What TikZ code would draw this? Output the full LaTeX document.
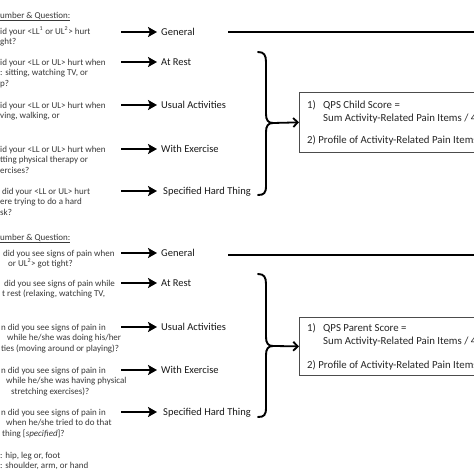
\documentclass[tikz,border=0pt]{standalone}
\usepackage{fontspec}
\setmainfont{Carlito}
\usetikzlibrary{arrows.meta}
\begin{document}
\begin{tikzpicture}[x=1pt,y=-1pt,
  qtext/.style={anchor=base west, inner sep=0pt, font=\fontsize{9}{10.5}\selectfont, text=black!78},
  lbl/.style={anchor=base west, inner sep=0pt, font=\fontsize{10.5}{12}\selectfont, text=black!90},
  boxtext/.style={anchor=base west, inner sep=0pt, font=\fontsize{10.8}{12}\selectfont, text=black!85},
  bigarrow/.style={line width=2.6pt, -{Stealth[length=9pt,width=10pt,inset=2pt]}},
  hline/.style={line width=2pt},
  bracestyle/.style={line width=1.9pt, line cap=round},
  boxarrow/.style={line width=1.8pt, -{Straight Barb[length=4.5pt,width=9pt]}},
  scorebox/.style={draw=black!70, line width=0.7pt, anchor=north west, inner sep=0pt, minimum width=260pt}
]
\useasboundingbox (0,0) rectangle (474,474);
\clip (0,0) rectangle (474,474);
\fill[white] (0,0) rectangle (474,474);

% ---------- top section ----------
\node[qtext] (h1) at (0,18) {\underline{umber \& Question:}};

\node[qtext] (q1a) at (0,34) {id your <LL\textsuperscript{1} or UL\textsuperscript{2}> hurt};
\node[qtext] (q1b) at (0,44.5) {ght?};

\node[qtext] (q2a) at (0,65) {id your <LL or UL> hurt when};
\node[qtext] (q2b) at (0,75.5) {: sitting, watching TV, or};
\node[qtext] (q2c) at (0,86) {p?};

\node[qtext] (q3a) at (0,108) {id your <LL or UL> hurt when};
\node[qtext] (q3b) at (0,118.5) {ving, walking, or};

\node[qtext] (q4a) at (0,152) {id your <LL or UL> hurt when};
\node[qtext] (q4b) at (0,162.5) {tting physical therapy or};
\node[qtext] (q4c) at (0,173) {ercises?};

\node[qtext] (q5a) at (2,194) {did your <LL or UL> hurt};
\node[qtext] (q5b) at (0,204.5) {ere trying to do a hard};
\node[qtext] (q5c) at (0,215) {sk?};

\node[lbl] (l1) at (161,35.5) {General};
\node[lbl] (l2) at (161,65.5) {At Rest};
\node[lbl] (l3) at (161,108.5) {Usual Activities};
\node[lbl] (l4) at (161,152.5) {With Exercise};
\node[lbl] (l5) at (163,194.5) {Specified Hard Thing};

\foreach \n/\y in {1/32,2/62,3/105,4/149,5/191}{
  \coordinate (a\n s) at (121,\y);
  \coordinate (a\n e) at (157,\y);
  \draw[bigarrow] (a\n s) -- (a\n e);
}

\coordinate (t1s) at (228,32);
\coordinate (t1e) at (480,32);
\draw[hline] (t1s) -- (t1e);

\coordinate (br1) at (273,123);
\draw[bracestyle] (258,52) .. controls (264,52) and (266,55) .. (266,62)
  -- (266,114) .. controls (266,120) and (268,123) .. (br1)
  .. controls (268,123) and (266,126) .. (266,132)
  -- (266,186) .. controls (266,193) and (264,195) .. (258,195);

\node[scorebox, minimum height=60pt] (box1) at (299,92) {};
\draw[boxarrow] (br1) -- (box1.west);
\node[boxtext] (b1a) at (307,108) {\makebox[16pt][l]{1)}QPS Child Score =};
\node[boxtext] (b1b) at (323,121) {Sum Activity-Related Pain Items / 4};
\node[boxtext] (b1c) at (307,143) {2) Profile of Activity-Related Pain Items};

% ---------- bottom section ----------
\node[qtext] (h2) at (0,240) {\underline{umber \& Question:}};

\node[qtext] (p1a) at (3,256) {did you see signs of pain when};
\node[qtext] (p1b) at (8,266.5) {or UL\textsuperscript{2}> got tight?};

\node[qtext] (p2a) at (4,286) {did you see signs of pain while};
\node[qtext] (p2b) at (2,296.5) {t rest (relaxing, watching TV,};

\node[qtext] (p3a) at (1,330) {n did you see signs of pain in};
\node[qtext] (p3b) at (7,340.5) {while he/she was doing his/her};
\node[qtext] (p3c) at (1,351) {ties (moving around or playing)?};

\node[qtext] (p4a) at (1,373) {n did you see signs of pain in};
\node[qtext] (p4b) at (6,383.5) {while he/she was having physical};
\node[qtext] (p4c) at (11,394) {stretching exercises)?};

\node[qtext] (p5a) at (1,415) {n did you see signs of pain in};
\node[qtext] (p5b) at (6,425.5) {when he/she tried to do that};
\node[qtext] (p5c) at (2,436) {thing [\textit{specified}]?};

\node[qtext] (f1) at (0,458) {: hip, leg or, foot};
\node[qtext] (f2) at (0,468.5) {: shoulder, arm, or hand};

\node[lbl] (m1) at (161,256.5) {General};
\node[lbl] (m2) at (161,286.5) {At Rest};
\node[lbl] (m3) at (161,330.5) {Usual Activities};
\node[lbl] (m4) at (161,373.5) {With Exercise};
\node[lbl] (m5) at (163,415.5) {Specified Hard Thing};

\foreach \n/\y in {1/253,2/283,3/327,4/370,5/412}{
  \coordinate (c\n s) at (121,\y);
  \coordinate (c\n e) at (157,\y);
  \draw[bigarrow] (c\n s) -- (c\n e);
}

\coordinate (t2s) at (228,255);
\coordinate (t2e) at (480,255);
\draw[hline] (t2s) -- (t2e);

\coordinate (br2) at (273,346);
\draw[bracestyle] (258,274) .. controls (264,274) and (266,277) .. (266,284)
  -- (266,337) .. controls (266,343) and (268,346) .. (br2)
  .. controls (268,346) and (266,349) .. (266,355)
  -- (266,408) .. controls (266,415) and (264,417) .. (258,417);

\node[scorebox, minimum height=58pt] (box2) at (299,317) {};
\draw[boxarrow] (br2) -- (box2.west);
\node[boxtext] (b2a) at (307,331.5) {\makebox[16pt][l]{1)}QPS Parent Score =};
\node[boxtext] (b2b) at (323,344) {Sum Activity-Related Pain Items / 4};
\node[boxtext] (b2c) at (307,368.5) {2) Profile of Activity-Related Pain Items};
\end{tikzpicture}
\end{document}
